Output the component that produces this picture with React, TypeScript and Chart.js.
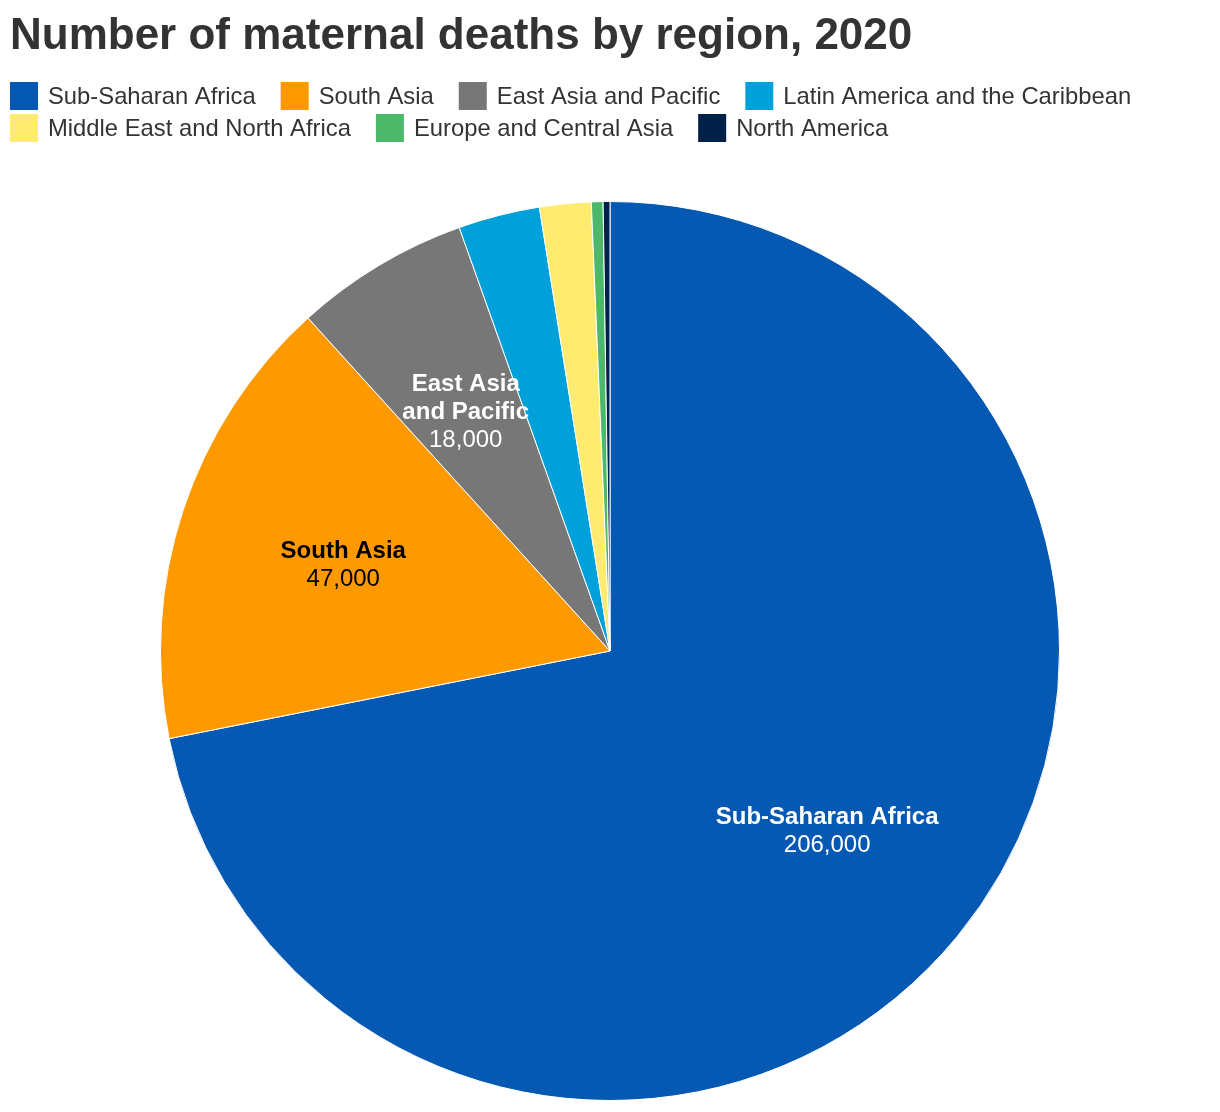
import React, { useEffect, useRef } from "react";
import { Chart, registerables } from "chart.js";

Chart.register(...registerables);

const regions = [
  "Sub-Saharan Africa",
  "South Asia",
  "East Asia and Pacific",
  "Latin America and the Caribbean",
  "Middle East and North Africa",
  "Europe and Central Asia",
  "North America",
];

const deaths = [206000, 47000, 18000, 8400, 5300, 1200, 700];

const sliceColors = [
  "#0559B3",
  "#FF9900",
  "#777777",
  "#00A0DA",
  "#FFEB70",
  "#4CB86A",
  "#002147",
];

// In-slice labels: name lines (bold) for the largest slices, null = no label
const sliceLabelLines: (string[] | null)[] = [
  ["Sub-Saharan Africa"],
  ["South Asia"],
  ["East Asia", "and Pacific"],
  null,
  null,
  null,
  null,
];

const sliceLabelColors = ["#FFFFFF", "#000000", "#FFFFFF", "", "", "", ""];

const FONT = "'Liberation Sans', Arial, Helvetica, sans-serif";

const fmt = (v: number) => v.toLocaleString("en-US");

// Left-aligned wrapping legend drawn in the space below the title
const legendPlugin = {
  id: "wrapLegend",
  afterDraw(chart: any) {
    const ctx = chart.ctx as CanvasRenderingContext2D;
    const labels: string[] = chart.data.labels;
    const colors: string[] = chart.data.datasets[0].backgroundColor;
    const box = 28;
    const gapText = 10;
    const gapItem = 25;
    const left = 10;
    const maxRight = chart.width - 10;
    const rowY = [96, 128];
    const rowStep = 32;
    ctx.save();
    ctx.font = `23.8px ${FONT}`;
    ctx.textBaseline = "middle";
    ctx.textAlign = "left";
    let x = left;
    let row = 0;
    labels.forEach((label, i) => {
      const w = box + gapText + ctx.measureText(label).width;
      if (x > left && x + w > maxRight) {
        row += 1;
        x = left;
      }
      const cy = row < rowY.length ? rowY[row] : rowY[0] + row * rowStep;
      ctx.fillStyle = colors[i];
      ctx.fillRect(x, cy - box / 2, box, box);
      ctx.fillStyle = "#333333";
      ctx.fillText(label, x + box + gapText, cy + 1);
      x += w + gapItem;
    });
    ctx.restore();
  },
};

// Name and value printed inside the larger slices
const sliceLabelPlugin = {
  id: "sliceLabels",
  afterDatasetsDraw(chart: any) {
    const ctx = chart.ctx as CanvasRenderingContext2D;
    const meta = chart.getDatasetMeta(0);
    const values: number[] = chart.data.datasets[0].data;
    const lineH = 28;
    ctx.save();
    ctx.textAlign = "center";
    ctx.textBaseline = "middle";
    meta.data.forEach((arc: any, i: number) => {
      const names = sliceLabelLines[i];
      if (!names) return;
      const { x, y, startAngle, endAngle, outerRadius } = arc.getProps(
        ["x", "y", "startAngle", "endAngle", "outerRadius"],
        true
      );
      const mid = (startAngle + endAngle) / 2;
      const r = outerRadius * 0.625;
      const cx = x + Math.cos(mid) * r;
      const cy = y + Math.sin(mid) * r;
      const lines = [...names, fmt(values[i])];
      const top = cy - ((lines.length - 1) * lineH) / 2;
      ctx.fillStyle = sliceLabelColors[i];
      lines.forEach((line, k) => {
        ctx.font =
          k < names.length ? `bold 24px ${FONT}` : `24px ${FONT}`;
        ctx.fillText(line, cx, top + k * lineH + 2);
      });
    });
    ctx.restore();
  },
};

export default function App() {
  const canvasRef = useRef<HTMLCanvasElement | null>(null);

  useEffect(() => {
    document.body.style.margin = "0";
    const canvas = canvasRef.current;
    if (!canvas) return;
    const chart = new Chart(canvas, {
      type: "pie",
      data: {
        labels: regions,
        datasets: [
          {
            data: deaths,
            backgroundColor: sliceColors,
            borderColor: "#FFFFFF",
            borderWidth: 1,
          },
        ],
      },
      options: {
        responsive: false,
        animation: false,
        devicePixelRatio: 1,
        layout: { padding: { left: 10, right: 10, top: 0, bottom: 11 } },
        plugins: {
          legend: { display: false },
          tooltip: { enabled: false },
          title: {
            display: true,
            text: "Number of maternal deaths by region, 2020",
            align: "start",
            color: "#333333",
            font: { family: FONT, size: 44, weight: "bold", lineHeight: 1.2 },
            padding: { top: 10, bottom: 138.2 },
          },
        },
      },
      plugins: [legendPlugin, sliceLabelPlugin],
    });
    return () => chart.destroy();
  }, []);

  return (
    <div style={{ width: 1220, height: 1112 }}>
      <canvas ref={canvasRef} width={1220} height={1112} />
    </div>
  );
}
